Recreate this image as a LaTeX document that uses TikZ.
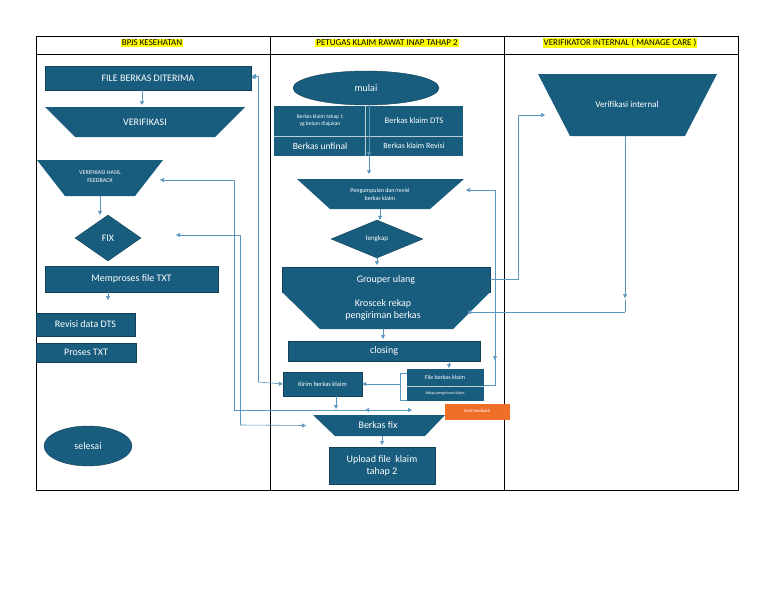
\documentclass[tikz,border=0pt]{standalone}
\usepackage{fontspec}
\setmainfont{Carlito}
\usetikzlibrary{shapes.geometric,arrows.meta}
\definecolor{bx}{RGB}{24,92,126}
\definecolor{ln}{RGB}{90,150,190}
\definecolor{hl}{RGB}{255,255,0}
\definecolor{org}{RGB}{240,110,40}
\begin{document}
\begin{tikzpicture}[x=1pt,y=-1pt,
 box/.style={fill=bx,draw=bx!70!black,line width=0.4pt,text=white,inner sep=0},
 lbl/.style={text=white,inner sep=0,align=center},
 con/.style={draw=ln,line width=0.6pt,-{Triangle[length=4pt,width=4pt]}},
 lin/.style={draw=ln,line width=0.6pt},
 hd/.style={fill=hl,inner sep=1pt,font=\fontsize{9}{10}\selectfont}]
\useasboundingbox (0,0) rectangle (768,594);
% table
\draw[line width=0.6pt] (36,36) rectangle (738,490);
\draw[line width=0.6pt] (36,54) -- (738,54) (270,36) -- (270,490) (504,36) -- (504,490);
\node[hd] (h1) at (152,43) {BPJS KESEHATAN};
\node[hd] (h2) at (387,43) {PETUGAS KLAIM RAWAT INAP TAHAP 2};
\node[hd] (h3) at (620,43) {VERIFIKATOR INTERNAL ( MANAGE CARE )};
% left column
\node[box,minimum width=206pt,minimum height=24pt,font=\fontsize{10}{11}\selectfont] (fbd) at (148,78) {FILE BERKAS DITERIMA};
\fill[bx] (45,107) -- (245,107) -- (215,137) -- (75,137) -- cycle;
\node[lbl,font=\fontsize{10}{11}\selectfont] (ver) at (145,122) {VERIFIKASI};
\fill[bx] (37,160) -- (163,160) -- (135,196) -- (65,196) -- cycle;
\node[lbl,font=\fontsize{6}{8}\selectfont] (vhf) at (100,177) {VERIFIKASI HASIL\\FEEDBACK};
\node[box,diamond,minimum width=66pt,minimum height=46pt,font=\fontsize{10}{11}\selectfont] (fix) at (108,238) {FIX};
\node[box,minimum width=173pt,minimum height=26pt,font=\fontsize{10}{11}\selectfont] (mtxt) at (131.5,279) {Memproses file TXT};
\node[box,minimum width=99pt,minimum height=23pt,font=\fontsize{10}{11}\selectfont] (rdts) at (85.5,324.5) {Revisi data DTS};
\node[box,minimum width=100pt,minimum height=19pt,font=\fontsize{10}{11}\selectfont] (ptxt) at (86,352.5) {Proses TXT};
\node[box,ellipse,minimum width=88pt,minimum height=40pt,font=\fontsize{10}{11}\selectfont] (sel) at (88,446) {selesai};
% middle column
\node[box,ellipse,minimum width=146pt,minimum height=34pt,font=\fontsize{10}{11}\selectfont] (mul) at (366,88) {mulai};
\fill[bx] (274,106) rectangle (463,156);
\draw[white!70!bx,line width=0.6pt] (365,106) -- (365,156) (274,136) -- (463,136);
\node[lbl,font=\fontsize{5.5}{7}\selectfont] (t1) at (320,121) {Berkas klaim tahap 1\\yg belum diajukan};
\node[lbl,font=\fontsize{8.5}{10}\selectfont] (t2) at (414,121) {Berkas klaim DTS};
\node[lbl,font=\fontsize{9.5}{10}\selectfont] (t3) at (320,146) {Berkas unfinal};
\node[lbl,font=\fontsize{8}{10}\selectfont] (t4) at (414,146) {Berkas klaim Revisi};
\coordinate (tb) at (369,156);
\fill[bx] (297,179) -- (464,179) -- (430,209) -- (330,209) -- cycle;
\node[lbl,font=\fontsize{6}{8}\selectfont] (pen) at (380,194) {Pengumpulan dan/revisi\\berkas klaim};
\node[box,diamond,minimum width=92pt,minimum height=38pt,font=\fontsize{7}{8}\selectfont] (lkp) at (377,239) {lengkap};
\node[box,minimum width=208pt,minimum height=25pt,font=\fontsize{10}{11}\selectfont] (gru) at (386,279.5) {Grouper ulang};
\fill[bx] (282,292) -- (490,292) -- (453,329) -- (320,329) -- cycle;
\node[lbl,font=\fontsize{10}{12}\selectfont] (krs) at (383,310) {Kroscek rekap\\pengiriman berkas};
\node[box,minimum width=192pt,minimum height=20pt,font=\fontsize{10}{11}\selectfont] (clo) at (384,351) {closing};
\node[box,minimum width=79pt,minimum height=24pt,font=\fontsize{6.5}{8}\selectfont] (kir) at (322.5,384) {Kirim berkas klaim};
\fill[bx] (407,369) rectangle (484,401);
\draw[white!70!bx,line width=0.5pt] (407,386) -- (484,386);
\node[lbl,font=\fontsize{6}{7}\selectfont] (fbk) at (445,377) {File berkas klaim};
\node[lbl,font=\fontsize{4}{5}\selectfont] (rpk) at (445,393) {Rekap pengiriman klaim};
\coordinate (fbl) at (407,385);
\fill[org] (445,404) rectangle (510,420);
\node[inner sep=0,text=white,font=\fontsize{4.5}{5}\selectfont] (hf) at (477,411) {Hasil feedback};
\fill[bx] (313,415) -- (445,415) -- (425,436) -- (335,436) -- cycle;
\node[lbl,font=\fontsize{10}{11}\selectfont] (bfx) at (378,425.5) {Berkas fix};
\node[box,minimum width=106pt,minimum height=37pt,align=center,font=\fontsize{10}{12}\selectfont] (upl) at (382,465.5) {Upload file\ \ klaim\\tahap 2};
% right column
\fill[bx] (538,74) -- (717,74) -- (685,136) -- (570,136) -- cycle;
\node[lbl,font=\fontsize{9}{11}\selectfont] (vin) at (627,104) {Verifikasi internal};
% connectors
\coordinate (c1) at (258,382);
\coordinate (c2) at (234,410);
\coordinate (c3) at (240,425);
\coordinate (c4) at (495,190);
\coordinate (c5) at (518,115);
\coordinate (c6) at (625,312);
\draw[con] (fbd.south -| 142,0) -- (142,105);
\draw[con] (100,196) -- (fix.north -| 100,0);
\draw[con] (mtxt.south -| 108,0) -- (108,300);
\draw[con] (mul.south -| 369,0) -- (tb);
\draw[con] (tb) -- (369,174);
\draw[con] (380,209) -- (lkp.north -| 380,0);
\draw[con] (lkp.south -| 377,0) -- (377,265);
\draw[con] (383,329) -- (383,339);
\draw[con] (449,361) -- (449,368);
\draw[con] (kir.south -| 336,0) -- (336,409);
\draw[con] (382,436) -- (382,445);
\draw[con] (kir.north -| 258,0) ++(0,0) (c1) |- (252,76);
\draw[con] (258,382) -- (kir.west);
\draw[lin] (258,382) -- (258,76);
\draw[con] (258,76) -- (fbd.east);
\draw[con] (c2) |- (160,180);
\draw[lin] (c2) -- (410,410);
\draw[con] (380,410) -- (365,410);
\draw[con] (380,410) -- (412,410);
\draw[con] (c3) |- (176,235);
\draw[con] (c3) -- (bfx.west -| 306,0);
\draw[lin] (495,190) -- (495,385) -- (484,385);
\draw[con] (495,190) -- (466,190);
\draw[con] (495,340) -- (495,360);
\draw[lin] (fbk.west -| 407,0) ++(0,-4) (407,373) -- (400,373) -- (400,400) -- (407,400);
\draw[con] (400,384) -- (kir.east);
\draw[lin] (gru.east) -| (c5);
\draw[con] (c5) -- (545,115);
\draw[con] (625,136) -- (625,298);
\draw[lin] (c6) -- (625,300);
\draw[con] (c6) -- (467,312);
\end{tikzpicture}
\end{document}
